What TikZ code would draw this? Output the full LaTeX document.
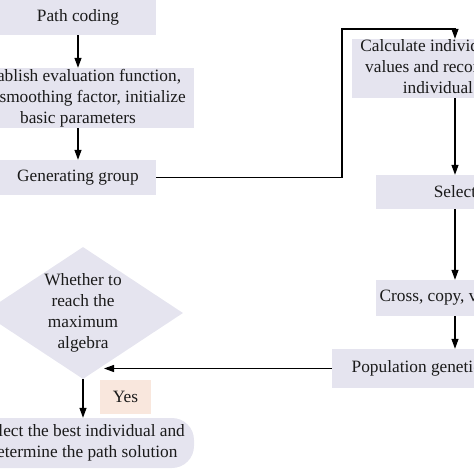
\documentclass[tikz,border=0pt]{standalone}
\usepackage{fontspec}
\setmainfont{Liberation Serif}
\usepackage{xcolor}
\usetikzlibrary{shapes.geometric,arrows.meta,calc}
\definecolor{boxfill}{HTML}{E5E4EF}
\definecolor{yesfill}{HTML}{F9E7DD}
\definecolor{txtgray}{HTML}{1A1A1A}

\begin{document}
\begin{tikzpicture}[x=1pt,y=-1pt,
    font=\fontsize{17.3}{20.8}\selectfont, text=txtgray,
    stepbox/.style={rectangle, fill=boxfill, align=center, inner sep=0pt},
    arr/.style={-{Triangle[length=10pt,width=7pt]}, line width=1.2pt}]
    % Frame
    \useasboundingbox (0,0) rectangle (474,474);
    \clip (0,0) rectangle (474,474);

    % Left column
    \node[stepbox, minimum width=156pt, minimum height=35pt] (code) at (78,17.5) {Path coding};
    
    \node[stepbox, minimum width=232pt, minimum height=60pt] (init) at (78,98) {Establish evaluation function,\\add smoothing factor, initialize\\basic parameters};
    
    \node[stepbox, minimum width=156pt, minimum height=35pt] (gen) at (78,177.5) {Generating group};
    
    % Right column
    \node[stepbox, minimum width=206pt, minimum height=59pt] (calc) at (455,68.5) {Calculate individual fitness\\values and record the best\\individual path};
    
    \node[stepbox, minimum width=158pt, minimum height=34pt] (sel) at (455,192) {Select};
    
    \node[stepbox, minimum width=158pt, minimum height=36pt] (cross) at (455,298) {Cross, copy, variation};
    
    \node[stepbox, minimum width=246pt, minimum height=39pt] (pop) at (455,368.5) {Population genetic generation};
    
    % Decision and result
    \node[diamond, fill=boxfill, aspect=1.5, inner sep=0pt, minimum width=200pt, minimum height=132pt, align=center] (dia) at (83,313) {Whether to\\reach the\\maximum\\algebra};
    
    \node[rectangle, fill=yesfill, minimum width=51pt, minimum height=34pt, inner sep=0pt] (yes) at (125.5,397) {Yes};
    
    \node[stepbox, rounded corners=22pt, minimum width=222pt, minimum height=50pt] (final) at (83,443) {Select the best individual and\\determine the path solution};
    
    % Arrows
    \foreach \a/\b in {code/init, init/gen, calc/sel, sel/cross, cross/pop, dia/final} {
        \draw[arr] (\a.south) -- (\b.north);
    }
    \coordinate (turn) at (342,29);
    \draw[arr] (gen.east) -| (turn) -| (calc.north);
    \coordinate (tip) at (104,368.5);
    \draw[arr] (pop.west) -- (tip);
\end{tikzpicture}
\end{document}
